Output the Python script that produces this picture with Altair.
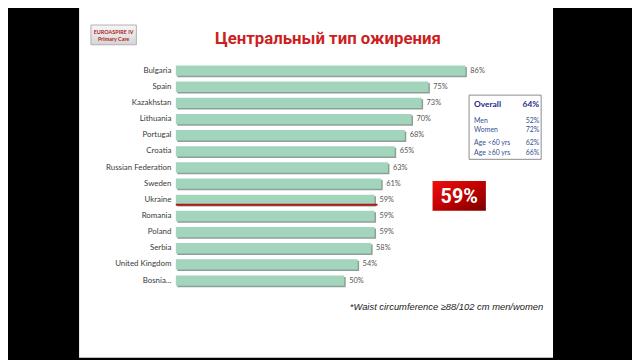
import altair as alt
import pandas as pd

countries = ["Bulgaria", "Spain", "Kazakhstan", "Lithuania", "Portugal", "Croatia",
             "Russian Federation", "Sweden", "Ukraine", "Romania", "Poland", "Serbia",
             "United Kingdom", "Bosnia..."]
values = [86, 75, 73, 70, 68, 65, 63, 61, 59, 59, 59, 58, 54, 50]
highlight = "Ukraine"

title_text = "Центральный тип ожирения"
badge_lines = ["EUROASPIRE  IV", "Primary Care"]
overall_label, overall_value = "Overall", "64%"
group_labels = ["Men", "Women", "Age <60 yrs", "Age \u226560 yrs"]
group_values = ["52%", "72%", "62%", "66%"]
ukraine_value_text = "59%"
footnote = "*Waist circumference \u226588/102 cm men/women"

df = pd.DataFrame({"country": countries, "value": values})
df["label"] = df["value"].astype(str) + "%"

FONT = "Lato"
one = pd.DataFrame({"a": [0]})

xscale = alt.Scale(domain=[0, 100])
yenc = alt.Y("country:N", sort=countries,
             scale=alt.Scale(paddingInner=0.36, paddingOuter=0.18),
             axis=alt.Axis(title=None, domain=False, ticks=False, labelPadding=5,
                           labelFont=FONT, labelFontSize=8, labelColor="#3a3a3a",
                           labelFontWeight="normal", zindex=2))
xenc = alt.X("value:Q", scale=xscale, axis=None)


def txt(text, x, y, **kw):
    return alt.Chart(pd.DataFrame({"t": [text]})).mark_text(**kw).encode(
        x=alt.value(x), y=alt.value(y), text="t:N")


def box(x, x2, y, y2, **kw):
    return alt.Chart(one).mark_rect(**kw).encode(
        x=alt.value(x), x2=alt.value(x2), y=alt.value(y), y2=alt.value(y2))


slide = box(-98, 382, -61, 299, color="white")

shadow = alt.Chart(df).mark_bar(color="#8f9f97", xOffset=1.5, yOffset=1.5).encode(
    x=xenc, y=yenc)
bars = alt.Chart(df).mark_bar(color="#a2d5bb").encode(x=xenc, y=yenc)
vals = alt.Chart(df).mark_text(align="left", dx=5, font=FONT, fontSize=7.5,
                               color="#555555").encode(
    x=alt.X("value:Q", scale=xscale, axis=None), y=yenc, text="label:N")

red_line = alt.Chart(df[df["country"] == highlight]).mark_rule(
    color="#b01818", strokeWidth=2, yOffset=5, xOffset=3).encode(
    x=alt.X("value:Q", scale=xscale, axis=None), x2=alt.datum(0), y=yenc)

title = txt(title_text, 154, -24, font="Roboto", fontSize=17, fontWeight="bold",
            color="#cc1f1f", baseline="middle")

badge = box(-86, -40, -38, -18,
            color=alt.LinearGradient(gradient="linear", x1=0, y1=0, x2=0, y2=1,
                                     stops=[alt.GradientStop(color="#f7f7f7", offset=0),
                                            alt.GradientStop(color="#d5d5d5", offset=1)]),
            stroke="#b0b0b0", strokeWidth=1)
badge_t1 = txt(badge_lines[0], -63, -31, font=FONT, fontSize=5.5, fontWeight="bold",
               color="#b22222", baseline="middle")
badge_t2 = txt(badge_lines[1], -63, -24, font=FONT, fontSize=5.5, fontWeight="bold",
               color="#b22222", baseline="middle")

table_box = box(297, 370, 33, 98, color="white", stroke="#8a8a8a", strokeWidth=1)
navy = "#1c2a8c"
blue = "#34508f"
table = [
    txt(overall_label, 302, 42, font=FONT, fontSize=8.5, fontWeight="bold", color=navy,
        align="left", baseline="middle"),
    txt(overall_value, 368, 42, font=FONT, fontSize=8.5, fontWeight="bold", color=navy,
        align="right", baseline="middle"),
]
ys = [59, 68, 82, 92]
for lab, v, yy in zip(group_labels, group_values, ys):
    table.append(txt(lab, 302, yy, font=FONT, fontSize=7, color=blue, align="left",
                     baseline="middle"))
    table.append(txt(v, 368, yy, font=FONT, fontSize=7, color=blue, align="right",
                     baseline="middle"))

red_box = box(260, 314, 120, 150,
              color=alt.LinearGradient(gradient="linear", x1=0, y1=0, x2=1, y2=1,
                                       stops=[alt.GradientStop(color="#ee1010", offset=0),
                                              alt.GradientStop(color="#c00000", offset=0.5),
                                              alt.GradientStop(color="#7a0000", offset=1)]))
red_text = txt(ukraine_value_text, 287, 136, font="Roboto", fontSize=20, fontWeight="bold",
               color="white", baseline="middle")

foot = txt(footnote, 372, 248, font="Liberation Sans", fontSize=9.5, fontStyle="italic",
           color="#222222", align="right", baseline="middle")

chart = alt.layer(slide, shadow, bars, vals, red_line, title, badge, badge_t1, badge_t2,
                  table_box, *table, red_box, red_text, foot).properties(
    width=341, height=229,
    autosize=alt.AutoSizeParams(type="none"),
    padding={"left": 170, "top": 53, "right": 121, "bottom": 70},
    background="black",
).configure_view(stroke=None)

chart.save("out.html", embed_options={"renderer": "svg", "actions": False})
